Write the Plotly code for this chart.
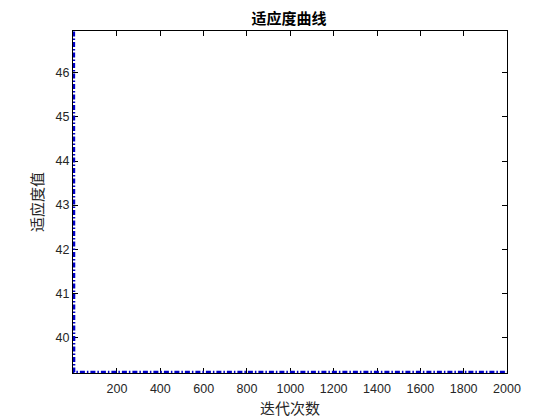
import plotly.graph_objects as go

# fitness curve: jumps down after the first iteration, then flat
iterations = [1, 2, 2000]
fitness = [46.94, 39.21, 39.21]

x_ticks = [200, 400, 600, 800, 1000, 1200, 1400, 1600, 1800, 2000]
y_ticks = [40, 41, 42, 43, 44, 45, 46]

fig = go.Figure()

fig.add_trace(go.Scatter(
    x=iterations,
    y=fitness,
    mode="lines",
    line=dict(color="#0000c8", width=2.5, dash="5px,2px,1.5px,2px"),
    showlegend=False,
))

axis_common = dict(
    showline=True,
    linecolor="black",
    linewidth=1,
    mirror="ticks",
    ticks="inside",
    ticklen=5,
    tickcolor="black",
    showgrid=False,
    zeroline=False,
    automargin=False,
    layer="below traces",
    tickfont=dict(family="Liberation Sans, Arial", size=12.5, color="#262626"),
)

# ranges padded a hair so the curve sitting on the box edges is not clipped away
fig.update_xaxes(
    range=[-3, 2000],
    tickvals=x_ticks,
    ticklabelstandoff=4,
    title=dict(text="迭代次数", font=dict(family="Noto Sans CJK SC", size=15, color="#262626"), standoff=8),
    **axis_common,
)
fig.update_yaxes(
    range=[39.19, 46.95],
    tickvals=y_ticks,
    title=dict(text="适应度值", font=dict(family="Noto Sans CJK SC", size=15, color="#262626"), standoff=8),
    **axis_common,
)

# the page body has an 8px margin, so the figure is shrunk and shifted to compensate
fig.update_layout(
    width=552,
    height=412,
    margin=dict(l=65, r=53, t=23, b=47),
    paper_bgcolor="white",
    plot_bgcolor="white",
    title=dict(
        text="<b>适应度曲线</b>",
        x=0.509,
        xanchor="center",
        y=0.973,
        yanchor="middle",
        font=dict(family="Noto Sans CJK SC", size=15, color="black"),
    ),
)

fig.write_html("out.html")
